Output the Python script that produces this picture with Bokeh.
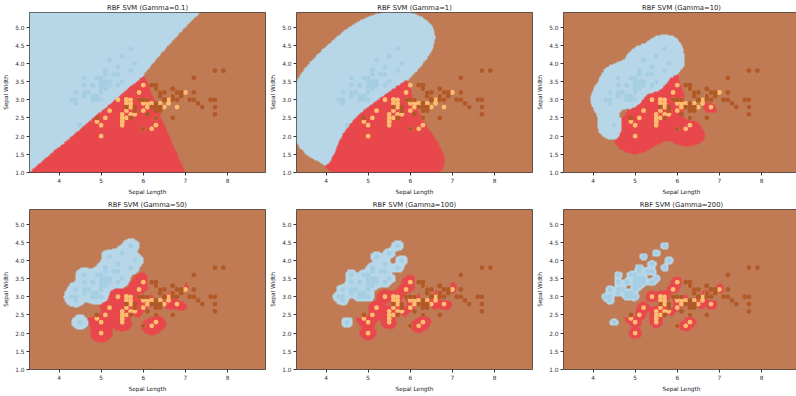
import numpy as np
from bokeh.plotting import figure
from bokeh.layouts import column, row
from bokeh.models import LinearColorMapper, FixedTicker, PrintfTickFormatter
from bokeh.embed import file_html
from bokeh.resources import INLINE

# Iris: sepal length / sepal width
setosa_len = [5.1,4.9,4.7,4.6,5.0,5.4,4.6,5.0,4.4,4.9,5.4,4.8,4.8,4.3,5.8,5.7,5.4,5.1,5.7,5.1,
              5.4,5.1,4.6,5.1,4.8,5.0,5.0,5.2,5.2,4.7,4.8,5.4,5.2,5.5,4.9,5.0,5.5,4.9,4.4,5.1,
              5.0,4.5,4.4,5.0,5.1,4.8,5.1,4.6,5.3,5.0]
setosa_wid = [3.5,3.0,3.2,3.1,3.6,3.9,3.4,3.4,2.9,3.1,3.7,3.4,3.0,3.0,4.0,4.4,3.9,3.5,3.8,3.8,
              3.4,3.7,3.6,3.3,3.4,3.0,3.4,3.5,3.4,3.2,3.1,3.4,4.1,4.2,3.1,3.2,3.5,3.6,3.0,3.4,
              3.5,2.3,3.2,3.5,3.8,3.0,3.8,3.2,3.7,3.3]
versicolor_len = [7.0,6.4,6.9,5.5,6.5,5.7,6.3,4.9,6.6,5.2,5.0,5.9,6.0,6.1,5.6,6.7,5.6,5.8,6.2,5.6,
                  5.9,6.1,6.3,6.1,6.4,6.6,6.8,6.7,6.0,5.7,5.5,5.5,5.8,6.0,5.4,6.0,6.7,6.3,5.6,5.5,
                  5.5,6.1,5.8,5.0,5.6,5.7,5.7,6.2,5.1,5.7]
versicolor_wid = [3.2,3.2,3.1,2.3,2.8,2.8,3.3,2.4,2.9,2.7,2.0,3.0,2.2,2.9,2.9,3.1,3.0,2.7,2.2,2.5,
                  3.2,2.8,2.5,2.8,2.9,3.0,2.8,3.0,2.9,2.6,2.4,2.4,2.7,2.7,3.0,3.4,3.1,2.3,3.0,2.5,
                  2.6,3.0,2.6,2.3,2.7,3.0,2.9,2.9,2.5,2.8]
virginica_len = [6.3,5.8,7.1,6.3,6.5,7.6,4.9,7.3,6.7,7.2,6.5,6.4,6.8,5.7,5.8,6.4,6.5,7.7,7.7,6.0,
                 6.9,5.6,7.7,6.3,6.7,7.2,6.2,6.1,6.4,7.2,7.4,7.9,6.4,6.3,6.1,7.7,6.3,6.4,6.0,6.9,
                 6.7,6.9,5.8,6.8,6.7,6.7,6.3,6.5,6.2,5.9]
virginica_wid = [3.3,2.7,3.0,2.9,3.0,3.0,2.5,2.9,2.5,3.6,3.2,2.7,3.0,2.5,2.8,3.2,3.0,3.8,2.6,2.2,
                 3.2,2.8,2.8,2.7,3.3,3.2,2.8,3.0,2.8,3.0,2.8,3.8,2.8,2.8,2.6,3.0,3.4,3.1,3.0,3.1,
                 3.1,3.1,2.7,3.2,3.3,3.0,2.5,3.0,3.4,3.0]

gammas = [0.1, 1, 10, 50, 100, 200]
C_value = 1.0
x_ticks = [4, 5, 6, 7, 8]
y_ticks = [1.0, 1.5, 2.0, 2.5, 3.0, 3.5, 4.0, 4.5, 5.0]

region_colors = ["#b7d7e8", "#e8474b", "#c07b54"]
point_colors = ["#a6cee3", "#fdbf6f", "#b15928"]

X = np.column_stack([setosa_len + versicolor_len + virginica_len,
                     setosa_wid + versicolor_wid + virginica_wid]).astype(float)
Y = np.array([0] * 50 + [1] * 50 + [2] * 50)


def rbf(A, B, g):
    d = (A[:, None, 0] - B[None, :, 0]) ** 2 + (A[:, None, 1] - B[None, :, 1]) ** 2
    return np.exp(-g * d)


def smo(K, y, C=1.0, eps=1e-3, max_iter=200000):
    n = len(y)
    Q = (y[:, None] * y[None, :]) * K
    a = np.zeros(n)
    G = -np.ones(n)
    TAU = 1e-12
    for _ in range(max_iter):
        yG = -y * G
        up = ((y > 0) & (a < C)) | ((y < 0) & (a > 0))
        low = ((y > 0) & (a > 0)) | ((y < 0) & (a < C))
        iu = np.where(up)[0]
        il = np.where(low)[0]
        i = iu[np.argmax(yG[iu])]
        j = il[np.argmin(yG[il])]
        if yG[i] - yG[j] < eps:
            break
        ai_old, aj_old = a[i], a[j]
        if y[i] != y[j]:
            quad = Q[i, i] + Q[j, j] + 2 * Q[i, j]
            if quad <= 0:
                quad = TAU
            delta = (-G[i] - G[j]) / quad
            diff = a[i] - a[j]
            a[i] += delta
            a[j] += delta
            if diff > 0:
                if a[j] < 0:
                    a[j] = 0; a[i] = diff
            else:
                if a[i] < 0:
                    a[i] = 0; a[j] = -diff
            if diff > 0:
                if a[i] > C:
                    a[i] = C; a[j] = C - diff
            else:
                if a[j] > C:
                    a[j] = C; a[i] = C + diff
        else:
            quad = Q[i, i] + Q[j, j] - 2 * Q[i, j]
            if quad <= 0:
                quad = TAU
            delta = (G[i] - G[j]) / quad
            s = a[i] + a[j]
            a[i] -= delta
            a[j] += delta
            if s > C:
                if a[i] > C:
                    a[i] = C; a[j] = s - C
            else:
                if a[j] < 0:
                    a[j] = 0; a[i] = s
            if s > C:
                if a[j] > C:
                    a[j] = C; a[i] = s - C
            else:
                if a[i] < 0:
                    a[i] = 0; a[j] = s
        G += Q[:, i] * (a[i] - ai_old) + Q[:, j] * (a[j] - aj_old)
    yG = y * G
    free = (a > 0) & (a < C)
    if free.any():
        rho = yG[free].mean()
    else:
        ub, lb = np.inf, -np.inf
        for t in range(n):
            if a[t] >= C:
                if y[t] < 0:
                    ub = min(ub, yG[t])
                else:
                    lb = max(lb, yG[t])
            elif a[t] <= 0:
                if y[t] > 0:
                    ub = min(ub, yG[t])
                else:
                    lb = max(lb, yG[t])
        rho = (ub + lb) / 2
    return a, rho


x_min, x_max = X[:, 0].min() - 1, X[:, 0].max() + 1
y_min, y_max = X[:, 1].min() - 1, X[:, 1].max() + 1
h = 0.02
xs = np.arange(x_min, x_max, h) + h / 2
ys = np.arange(y_min, y_max, h) + h / 2
XX, YY = np.meshgrid(xs, ys)
grid = np.column_stack([XX.ravel(), YY.ravel()])


def predict_grid(g):
    votes = np.zeros((grid.shape[0], 3), dtype=int)
    for (c1, c2) in [(0, 1), (0, 2), (1, 2)]:
        m = (Y == c1) | (Y == c2)
        Xp = X[m]
        yp = np.where(Y[m] == c1, 1.0, -1.0)
        K = rbf(Xp, Xp, g)
        a, rho = smo(K, yp, C_value)
        sv = a > 0
        dec = rbf(grid, Xp[sv], g) @ (a[sv] * yp[sv]) - rho
        votes[dec > 0, c1] += 1
        votes[dec <= 0, c2] += 1
    return np.argmax(votes, axis=1).reshape(XX.shape)


mapper = LinearColorMapper(palette=region_colors, low=-0.5, high=2.5)
FONT = "DejaVu Sans"
figs = []
for k, g in enumerate(gammas):
    Z = predict_grid(g).astype(float)
    p = figure(frame_width=236, frame_height=160, x_range=(x_min, x_max), y_range=(y_min, y_max),
               output_backend="svg", toolbar_location=None,
               title=f"RBF SVM (Gamma={g})",
               min_border_left=22, min_border_right=2, min_border_top=0, min_border_bottom=0)
    p.image(image=[Z], x=x_min, y=y_min, dw=x_max - x_min, dh=y_max - y_min, color_mapper=mapper)
    for c in range(3):
        sel = Y == c
        p.scatter(X[sel, 0], X[sel, 1], size=4.8, fill_color=point_colors[c], line_color=None)
    p.title.align = "center"
    p.title.text_font = FONT
    p.title.text_font_size = "6.8px"
    p.title.text_font_style = "normal"
    p.title.text_color = "#222222"
    p.title.standoff = 2
    p.title.offset = 0
    p.xaxis.axis_label = "Sepal Length"
    p.yaxis.axis_label = "Sepal Width"
    p.xaxis.ticker = FixedTicker(ticks=x_ticks)
    p.yaxis.ticker = FixedTicker(ticks=y_ticks)
    p.yaxis.formatter = PrintfTickFormatter(format="%.1f")
    for ax in (p.xaxis, p.yaxis):
        ax.axis_label_text_font = FONT
        ax.axis_label_text_font_size = "5.8px"
        ax.axis_label_text_font_style = "normal"
        ax.axis_label_standoff = 3
        ax.major_label_text_font = FONT
        ax.major_label_text_font_size = "5.8px"
        ax.major_label_standoff = 2
        ax.major_tick_out = 3
        ax.major_tick_in = 0
        ax.minor_tick_line_color = None
        ax.axis_line_color = None
        ax.major_tick_line_color = "#333333"
        ax.major_label_text_color = "#333333"
        ax.axis_label_text_color = "#222222"
    p.grid.visible = False
    p.outline_line_color = "#444444"
    p.outline_line_width = 1
    p.background_fill_color = "white"
    figs.append(p)

layout = column(row(*figs[0:3], spacing=0), row(*figs[3:6], spacing=0), spacing=0)
open("out.html", "w").write(file_html(layout, INLINE))
